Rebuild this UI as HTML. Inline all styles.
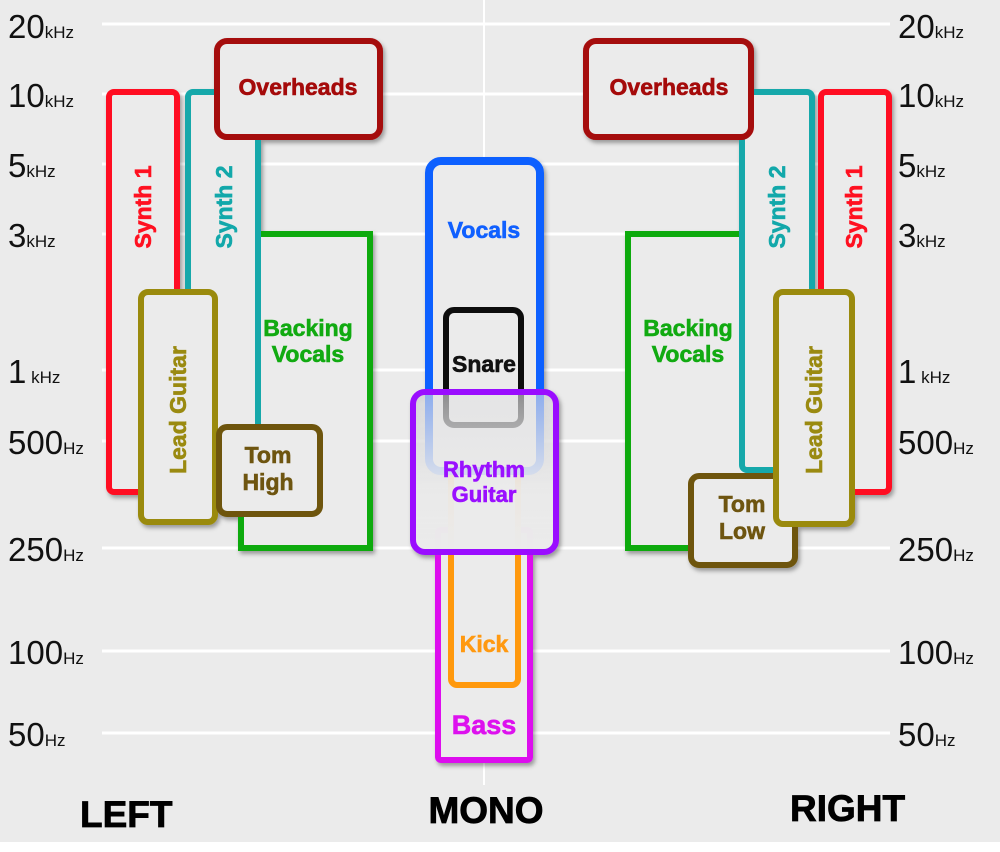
<!DOCTYPE html>
<html><head><meta charset="utf-8"><style>
html,body{margin:0;padding:0;background:#ebebeb}
svg{display:block}
text{font-family:"Liberation Sans",sans-serif}
</style></head><body>
<svg width="1000" height="852" viewBox="0 0 1000 852" xmlns="http://www.w3.org/2000/svg">
<defs>
<filter id="sh" x="-20%" y="-20%" width="140%" height="140%"><feDropShadow dx="2" dy="3" stdDeviation="2" flood-color="#000" flood-opacity="0.35"/></filter>
<linearGradient id="rg" x1="0" y1="0" x2="0" y2="1"><stop offset="0" stop-color="#e0e0e2" stop-opacity="0.6"/><stop offset="0.6" stop-color="#ebebeb" stop-opacity="0.95"/><stop offset="1" stop-color="#ebebeb" stop-opacity="1"/></linearGradient>
</defs>
<rect width="1000" height="852" fill="#ebebeb"/>
<rect y="842" width="1000" height="10" fill="#fff"/>
<g stroke="#fff" stroke-width="3">
<line x1="102" y1="24" x2="890" y2="24"/><line x1="102" y1="94" x2="890" y2="94"/>
<line x1="102" y1="164" x2="890" y2="164"/><line x1="102" y1="234" x2="890" y2="234"/>
<line x1="102" y1="370" x2="890" y2="370"/><line x1="102" y1="441" x2="890" y2="441"/>
<line x1="102" y1="548" x2="890" y2="548"/><line x1="102" y1="651" x2="890" y2="651"/>
<line x1="102" y1="733" x2="890" y2="733"/>
<line x1="484" y1="0" x2="484" y2="785" stroke-width="2"/>
</g>
<g font-size="33" fill="#111">
<text x="8" y="38">20<tspan font-size="17">kHz</tspan></text>
<text x="8" y="107">10<tspan font-size="17">kHz</tspan></text>
<text x="8" y="177">5<tspan font-size="17">kHz</tspan></text>
<text x="8" y="247">3<tspan font-size="17">kHz</tspan></text>
<text x="8" y="383">1<tspan font-size="17"> kHz</tspan></text>
<text x="8" y="454">500<tspan font-size="17">Hz</tspan></text>
<text x="8" y="561">250<tspan font-size="17">Hz</tspan></text>
<text x="8" y="664">100<tspan font-size="17">Hz</tspan></text>
<text x="8" y="746">50<tspan font-size="17">Hz</tspan></text>
<text x="898" y="38">20<tspan font-size="17">kHz</tspan></text>
<text x="898" y="107">10<tspan font-size="17">kHz</tspan></text>
<text x="898" y="177">5<tspan font-size="17">kHz</tspan></text>
<text x="898" y="247">3<tspan font-size="17">kHz</tspan></text>
<text x="898" y="383">1<tspan font-size="17"> kHz</tspan></text>
<text x="898" y="454">500<tspan font-size="17">Hz</tspan></text>
<text x="898" y="561">250<tspan font-size="17">Hz</tspan></text>
<text x="898" y="664">100<tspan font-size="17">Hz</tspan></text>
<text x="898" y="746">50<tspan font-size="17">Hz</tspan></text>
</g>
<g font-size="37" fill="#000" font-weight="bold" stroke="#000" stroke-width="0.8">
<text x="80" y="827">LEFT</text>
<text x="486" y="823" text-anchor="middle">MONO</text>
<text x="790" y="821">RIGHT</text>
</g>
<g stroke-width="6" fill="#ebebeb" filter="url(#sh)">
<rect x="241" y="234" width="129" height="314" stroke="#11aa11"/>
<rect x="109" y="92" width="68" height="400" rx="5" stroke="#ff1020"/>
<rect x="188" y="92" width="70" height="390" rx="5" stroke="#12a8aa"/>
<rect x="217" y="41" width="163" height="96" rx="10" stroke="#a50a0a"/>
<rect x="141" y="292" width="74" height="230" rx="7" stroke="#9a8a10"/>
<rect x="219" y="427" width="101" height="87" rx="8" stroke="#6e5510"/>
<rect x="628" y="234" width="129" height="314" stroke="#11aa11"/>
<rect x="821" y="92" width="68" height="400" rx="5" stroke="#ff1020"/>
<rect x="742" y="92" width="70" height="378" rx="5" stroke="#12a8aa"/>
<rect x="586" y="41" width="165" height="96" rx="10" stroke="#a50a0a"/>
<rect x="691" y="476" width="104" height="89" rx="8" stroke="#6e5510"/>
<rect x="776" y="292" width="76" height="232" rx="7" stroke="#9a8a10"/>
<rect x="438" y="530" width="92" height="230" rx="3" stroke="#dd11ee"/>
<rect x="451" y="440" width="67" height="245" rx="6" stroke="#ff9910"/>
<rect x="429" y="161" width="111" height="310" rx="12" stroke="#1060ff" stroke-width="8"/>
<rect x="446" y="310" width="75" height="115" rx="8" stroke="#111"/>
<rect x="413" y="392" width="143" height="160" rx="12" stroke="#9a10ff" fill="url(#rg)"/>
</g>
<g font-weight="bold" font-size="23" text-anchor="middle" stroke-width="0.6">
<text x="298" y="95" fill="#a50a0a" stroke="#a50a0a">Overheads</text>
<text x="669" y="95" fill="#a50a0a" stroke="#a50a0a">Overheads</text>
<text transform="translate(151,207) rotate(-90)" fill="#ff1020" stroke="#ff1020">Synth 1</text>
<text transform="translate(232,207) rotate(-90)" fill="#12a8aa" stroke="#12a8aa">Synth 2</text>
<text transform="translate(862,207) rotate(-90)" fill="#ff1020" stroke="#ff1020">Synth 1</text>
<text transform="translate(785,207) rotate(-90)" fill="#12a8aa" stroke="#12a8aa">Synth 2</text>
<text transform="translate(186,410) rotate(-90)" fill="#9a8a10" stroke="#9a8a10">Lead Guitar</text>
<text transform="translate(822,410) rotate(-90)" fill="#9a8a10" stroke="#9a8a10">Lead Guitar</text>
<text x="308" y="336" fill="#11aa11" stroke="#11aa11">Backing</text>
<text x="308" y="362" fill="#11aa11" stroke="#11aa11">Vocals</text>
<text x="688" y="336" fill="#11aa11" stroke="#11aa11">Backing</text>
<text x="688" y="362" fill="#11aa11" stroke="#11aa11">Vocals</text>
<text x="268" y="463" fill="#6e5510" stroke="#6e5510">Tom</text>
<text x="268" y="490" fill="#6e5510" stroke="#6e5510">High</text>
<text x="742" y="512" fill="#6e5510" stroke="#6e5510">Tom</text>
<text x="742" y="539" fill="#6e5510" stroke="#6e5510">Low</text>
<text x="484" y="238" fill="#1060ff" stroke="#1060ff">Vocals</text>
<text x="484" y="372" fill="#111" stroke="#111">Snare</text>
<text x="484" y="477" fill="#9a10ff" stroke="#9a10ff" font-size="22">Rhythm</text>
<text x="484" y="502" fill="#9a10ff" stroke="#9a10ff" font-size="22">Guitar</text>
<text x="484" y="652" fill="#ff9910" stroke="#ff9910">Kick</text>
<text x="484" y="734" fill="#dd11ee" stroke="#dd11ee" font-size="27">Bass</text>
</g>
</svg>
</body></html>
